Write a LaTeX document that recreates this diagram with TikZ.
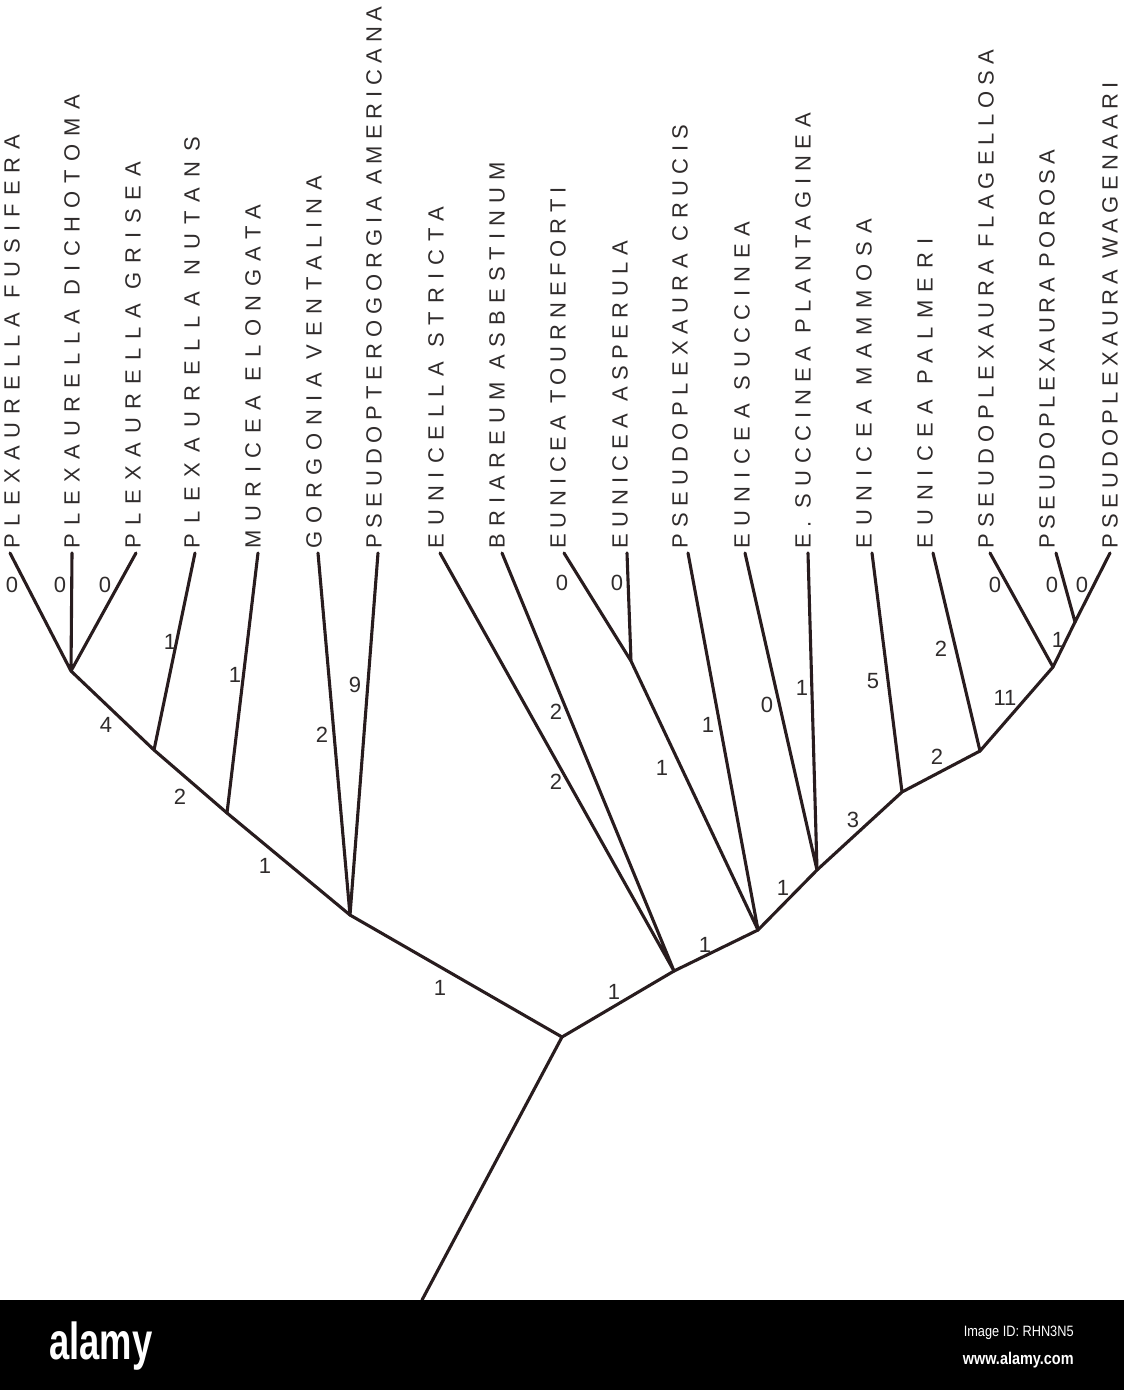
\documentclass[tikz,border=0pt]{standalone}
\usepackage{fontspec}
\usepackage{graphicx}
\setmainfont{Liberation Sans}
\newfontfamily\taxfont{Liberation Sans}
\definecolor{ink}{RGB}{40, 28, 30}
\definecolor{lbl}{RGB}{48, 44, 44}

\begin{document}
\begin{tikzpicture}[x = 0.5pt, y = -0.5pt,
  branch/.style = {line width = 1.55pt, color = ink, line cap = round, line join = round},
  taxon/.style = {rotate = 90, anchor = west, inner sep = 0pt, text = lbl,
    font = \fontsize{11}{13}\taxfont\addfontfeature{LetterSpace = #1}},
  steps/.style = {inner sep = 0pt, text = lbl, font = \fontsize{11}{13}\selectfont}]
%\draw[very thin, color = gray] (0, 0) grid [step = 50] (1124, 1390);
\useasboundingbox (0, 0) rectangle (1124, 1390);
\fill [white] (0, 0) rectangle (1124, 1300);

% taxa
\node (fus) at (12, 549) [taxon = 36] {PLEXAURELLA FUSIFERA};
\node (dic) at (72, 549) [taxon = 37.5] {PLEXAURELLA DICHOTOMA};
\node (gri) at (133, 549) [taxon = 40] {PLEXAURELLA GRISEA};
\node (nut) at (192, 549) [taxon = 45.5] {PLEXAURELLA NUTANS};
\node (mur) at (253, 549) [taxon = 39] {MURICEA ELONGATA};
\node (gor) at (314, 549) [taxon = 35.5] {GORGONIA VENTALINA};
\node (pse) at (374, 549) [taxon = 27] {PSEUDOPTEROGORGIA AMERICANA};
\node (str) at (436, 549) [taxon = 36.5] {EUNICELLA STRICTA};
\node (bri) at (497, 549) [taxon = 32.5] {BRIAREUM ASBESTINUM};
\node (tou) at (558, 549) [taxon = 26.5] {EUNICEA TOURNEFORTI};
\node (asp) at (620, 549) [taxon = 28] {EUNICEA ASPERULA};
\node (cru) at (680, 549) [taxon = 29.5] {PSEUDOPLEXAURA CRUCIS};
\node (suc) at (742, 549) [taxon = 35.5] {EUNICEA SUCCINEA};
\node (pla) at (803, 549) [taxon = 31] {E. SUCCINEA PLANTAGINEA};
\node (mam) at (864, 549) [taxon = 38.5] {EUNICEA MAMMOSA};
\node (pal) at (925, 549) [taxon = 39] {EUNICEA PALMERI};
\node (fla) at (986, 549) [taxon = 27.5] {PSEUDOPLEXAURA FLAGELLOSA};
\node (por) at (1047, 549) [taxon = 21] {PSEUDOPLEXAURA POROSA};
\node (wag) at (1110, 549) [taxon = 24] {PSEUDOPLEXAURA WAGENAARI};

% tips of the branches
\coordinate (t1) at (10, 553);
\coordinate (t2) at (72, 553);
\coordinate (t3) at (136, 553);
\coordinate (t4) at (195, 553);
\coordinate (t5) at (258, 553);
\coordinate (t6) at (318, 553);
\coordinate (t7) at (378, 553);
\coordinate (t8) at (440, 553);
\coordinate (t9) at (502, 553);
\coordinate (t10) at (564, 553);
\coordinate (t11) at (627, 553);
\coordinate (t12) at (688, 553);
\coordinate (t13) at (745, 553);
\coordinate (t14) at (808, 553);
\coordinate (t15) at (872, 553);
\coordinate (t16) at (933, 553);
\coordinate (t17) at (990, 553);
\coordinate (t18) at (1056, 553);
\coordinate (t19) at (1110, 553);

% inner nodes
\coordinate (A) at (71, 671);
\coordinate (B) at (154, 750);
\coordinate (C) at (227, 813);
\coordinate (D) at (350, 915);
\coordinate (R) at (562, 1037);
\coordinate (E) at (674, 971);
\coordinate (F) at (758, 930);
\coordinate (T) at (631, 661);
\coordinate (G) at (817, 870);
\coordinate (H) at (902, 792);
\coordinate (I) at (980, 751);
\coordinate (J) at (1053, 667);
\coordinate (K) at (1075, 622);
\coordinate (base) at (422, 1300);

% branches
\draw [branch] (base) -- (R) -- (D) -- (C) -- (B) -- (A);
\draw [branch] (R) -- (E) -- (F) -- (G) -- (H) -- (I) -- (J) -- (K);
\draw [branch] (t1) -- (A) (t2) -- (A) (t3) -- (A);
\draw [branch] (t4) -- (B) (t5) -- (C) (t6) -- (D) (t7) -- (D);
\draw [branch] (t8) -- (E) (t9) -- (E);
\draw [branch] (t10) -- (T) -- (F) (t11) -- (T) (t12) -- (F);
\draw [branch] (t13) -- (G) (t14) -- (G) (t15) -- (H) (t16) -- (I);
\draw [branch] (t17) -- (J) (t18) -- (K) (t19) -- (K);

% steps on the branches
\node (s1) at (12, 585) [steps] {0};
\node (s2) at (60, 585) [steps] {0};
\node (s3) at (105, 585) [steps] {0};
\node (s4) at (170, 642) [steps] {1};
\node (s5) at (235, 675) [steps] {1};
\node (s6) at (322, 735) [steps] {2};
\node (s7) at (355, 685) [steps] {9};
\node (s8) at (556, 782) [steps] {2};
\node (s9) at (556, 712) [steps] {2};
\node (s10) at (562, 583) [steps] {0};
\node (s11) at (617, 583) [steps] {0};
\node (s12) at (662, 768) [steps] {1};
\node (s13) at (708, 725) [steps] {1};
\node (s14) at (767, 705) [steps] {0};
\node (s15) at (802, 688) [steps] {1};
\node (s16) at (873, 681) [steps] {5};
\node (s17) at (941, 649) [steps] {2};
\node (s18) at (995, 585) [steps] {0};
\node (s19) at (1052, 585) [steps] {0};
\node (s20) at (1082, 585) [steps] {0};
\node (a1) at (106, 725) [steps] {4};
\node (a2) at (180, 797) [steps] {2};
\node (a3) at (265, 866) [steps] {1};
\node (a4) at (440, 988) [steps] {1};
\node (a5) at (614, 992) [steps] {1};
\node (a6) at (705, 945) [steps] {1};
\node (a7) at (783, 888) [steps] {1};
\node (a8) at (853, 820) [steps] {3};
\node (a9) at (937, 757) [steps] {2};
\node (a10) at (1005, 698) [steps] {11};
\node (a11) at (1058, 640) [steps] {1};

% bar at the foot
\fill [black] (0, 1300) rectangle (1124, 1390);
\node (brand) at (101, 1346) [text = white, font = \fontsize{26}{26}\bfseries] {\scalebox{0.7}[1]{alamy}};
\node (imgid) at (1074, 1333) [anchor = east, inner sep = 0pt, text = white, font = \fontsize{7.5}{8}\selectfont] {\scalebox{0.85}[1]{Image ID: RHN3N5}};
\node (site) at (1074, 1360) [anchor = east, inner sep = 0pt, text = white, font = \fontsize{8.5}{9}\bfseries] {\scalebox{0.85}[1]{www.alamy.com}};
\end{tikzpicture}
\end{document}
